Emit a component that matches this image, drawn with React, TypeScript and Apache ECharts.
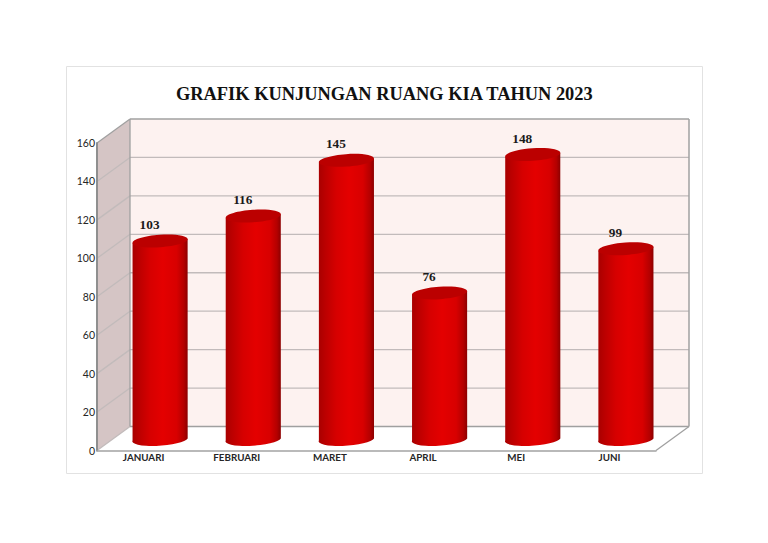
import React, { useEffect, useRef } from "react";
import * as echarts from "echarts";

const categories = ["JANUARI", "FEBRUARI", "MARET", "APRIL", "MEI", "JUNI"];
const visits = [103, 116, 145, 76, 148, 99];
const yTicks = [0, 20, 40, 60, 80, 100, 120, 140, 160];
const chartTitle = "GRAFIK KUNJUNGAN RUANG KIA TAHUN 2023";

const DX = 33;
const DY = 24;
const RX = 27.6;
const RY = 6.2;
const TILT_DEG = -4;

const wallsItem = (params: any, api: any) => {
  const r = params.coordSys;
  const x0 = r.x, x1 = r.x + r.width, yt = r.y, yb = r.y + r.height;
  const line = "#c2bbbb";
  const edge = "#a0a0a0";
  const L = (a: number, b: number, c: number, d: number, stroke: string, lineWidth: number) => ({
    type: "line",
    shape: { x1: a, y1: b, x2: c, y2: d },
    style: { stroke, lineWidth },
  });
  const children: any[] = [
    {
      type: "polygon",
      shape: { points: [[x0 + DX, yt - DY], [x1 + DX, yt - DY], [x1 + DX, yb - DY], [x0 + DX, yb - DY]] },
      style: { fill: "#fdf2f0" },
    },
    {
      type: "polygon",
      shape: { points: [[x0, yt], [x0 + DX, yt - DY], [x0 + DX, yb - DY], [x0, yb]] },
      style: { fill: "#d5c5c5" },
    },
  ];
  yTicks.forEach((t) => {
    const y = api.coord([0, t])[1];
    children.push(L(x0, y, x0 + DX, y - DY, t === 160 ? edge : line, 1.3));
    if (t > 0 && t < 160) children.push(L(x0 + DX, y - DY, x1 + DX, y - DY, line, 1.3));
  });
  children.push(
    L(x0 + DX, yt - DY, x1 + DX, yt - DY, edge, 1.5),
    L(x0 + DX, yb - DY, x1 + DX, yb - DY, edge, 1.3),
    L(x0 + DX, yt - DY, x0 + DX, yb - DY, edge, 1.3),
    L(x1 + DX, yt - DY, x1 + DX, yb - DY, edge, 1.5),
    L(x1, yb, x1 + DX, yb - DY, edge, 1.3)
  );
  return { type: "group", children };
};

const barItem = (_params: any, api: any) => {
  const idx = api.value(0);
  const val = api.value(1);
  const [fx, fy] = api.coord([idx, val]);
  const zero = api.coord([idx, 0])[1];
  const cx = fx + DX / 2;
  const cyTop = fy - DY / 2 + 0.5;
  const cyBot = zero - DY / 2;
  const rad = (TILT_DEG * Math.PI) / 180;
  const ex = RX * Math.cos(rad);
  const ey = RX * Math.sin(rad);
  const body =
    `M${cx - ex} ${cyTop - ey}L${cx - ex} ${cyBot - ey}` +
    `A${RX} ${RY} ${TILT_DEG} 0 0 ${cx + ex} ${cyBot + ey}` +
    `L${cx + ex} ${cyTop + ey}Z`;
  return {
    type: "group",
    children: [
      {
        type: "path",
        shape: { pathData: body },
        style: {
          fill: {
            type: "linear",
            x: 0,
            y: 0,
            x2: 1,
            y2: 0,
            colorStops: [
              { offset: 0, color: "#a80000" },
              { offset: 0.12, color: "#bb0000" },
              { offset: 0.32, color: "#d60000" },
              { offset: 0.55, color: "#e40000" },
              { offset: 0.8, color: "#d80000" },
              { offset: 0.93, color: "#b40000" },
              { offset: 1, color: "#8c0000" },
            ],
          },
        },
      },
      {
        type: "ellipse",
        x: cx,
        y: cyTop,
        rotation: -rad,
        shape: { cx: 0, cy: 0, rx: RX, ry: RY },
        style: { fill: "#bb0000" },
      },
      {
        type: "text",
        x: cx - 10.5,
        y: cyTop - 16.5,
        style: {
          text: String(val),
          fill: "#1a1a1a",
          font: 'bold 13.3px "Liberation Serif", serif',
          textAlign: "center",
          textVerticalAlign: "middle",
        },
      },
    ],
  };
};

export default function App() {
  const ref = useRef<HTMLDivElement>(null);
  useEffect(() => {
    const chart = echarts.init(ref.current!, null, { renderer: "svg" });
    chart.setOption({
      animation: false,
      backgroundColor: "#ffffff",
      title: {
        text: chartTitle,
        left: 171,
        top: 78,
        textStyle: {
          fontFamily: '"Liberation Serif", serif',
          fontWeight: "bold",
          fontSize: 18.4,
          color: "#111111",
          lineHeight: 22,
        },
      },
      graphic: [
        {
          type: "rect",
          z: -10,
          shape: { x: 66.5, y: 66.5, width: 636, height: 407 },
          style: { fill: "#ffffff", stroke: "#e2e2e2", lineWidth: 1 },
        },
      ],
      grid: { left: 97, top: 143, width: 559, height: 307.5, containLabel: false },
      xAxis: {
        type: "category",
        data: categories,
        axisTick: { show: false },
        axisLine: { show: true, lineStyle: { color: "#a3a3a3", width: 1.5 } },
        axisLabel: {
          margin: 0,
          interval: 0,
          fontFamily: "Lato",
          fontWeight: "bold",
          fontSize: 9.8,
          color: "#262626",
          lineHeight: 12,
        },
        z: 5,
      },
      yAxis: {
        type: "value",
        min: 0,
        max: 160,
        interval: 20,
        splitLine: { show: false },
        axisTick: { show: false },
        axisLine: { show: true, lineStyle: { color: "#8f8f8f", width: 2 } },
        axisLabel: { margin: 2, fontFamily: "Lato", fontSize: 10.5, color: "#262626" },
        z: 5,
      },
      series: [
        {
          type: "custom",
          name: "frame",
          coordinateSystem: "cartesian2d",
          renderItem: wallsItem,
          data: [[0, 0]],
          clip: false,
          silent: true,
          z: 1,
        },
        {
          type: "custom",
          name: "Kunjungan",
          coordinateSystem: "cartesian2d",
          renderItem: barItem,
          encode: { x: 0, y: 1 },
          data: visits.map((v, i) => [i, v]),
          clip: false,
          z: 3,
        },
      ],
    });
    return () => chart.dispose();
  }, []);
  return (
    <div
      ref={ref}
      style={{ position: "absolute", left: 0, top: 0, width: 768, height: 543 }}
    />
  );
}
